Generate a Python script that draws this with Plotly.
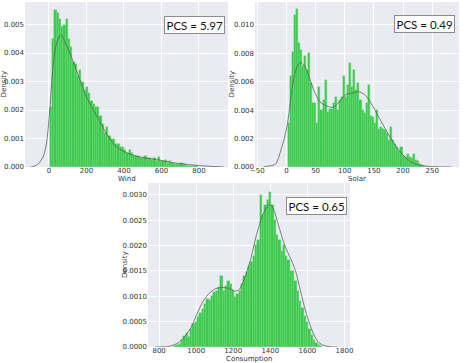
import plotly.graph_objects as go

# ---------------- data ----------------
wind_bin_start = 5
wind_bin_width = 12
wind_density = [0.0021, 0.0045, 0.0055, 0.0054, 0.0052, 0.0049, 0.0050, 0.0052, 0.0045, 0.0042,
                0.0037, 0.0036, 0.0032, 0.0034, 0.0030, 0.0027, 0.0028, 0.0026, 0.0023, 0.0022,
                0.0021, 0.0021, 0.0018, 0.0015, 0.0012, 0.0014, 0.0011, 0.0010, 0.0010, 0.0008,
                0.0008, 0.0007, 0.0007, 0.0006, 0.0005, 0.0006, 0.0005, 0.0004, 0.0004, 0.0004,
                0.0003, 0.0003, 0.0004, 0.0003, 0.0003, 0.00025, 0.0003, 0.0002, 0.00035, 0.0002,
                0.0002, 0.00025, 0.00015, 0.0002, 0.00015, 0.0001, 0.00012, 0.0001, 0.00015, 0.0001,
                0.00008, 0.00005, 0.00004, 0.00003, 0.00002, 0.00002]
wind_kde_x = [-100, -86, -59, -32, -14, 4, 21, 39, 57, 66, 84, 111, 146, 200, 254, 307, 361, 414,
              486, 575, 664, 754, 843, 914, 935]
wind_kde_y = [0.0, 0.00001, 0.0001, 0.00035, 0.0008, 0.0020, 0.0035, 0.0043, 0.0046, 0.00463,
              0.0044, 0.0040, 0.0034, 0.00245, 0.0018, 0.00117, 0.0007, 0.0005, 0.00035, 0.00026,
              0.00015, 0.00008, 0.00003, 0.00001, 0.0]

solar_bin_start = 2
solar_bin_width = 3.52
solar_density = [0.0031, 0.0064, 0.0081, 0.0107, 0.0111, 0.0087, 0.0082, 0.0071, 0.0078, 0.0068,
                 0.0080, 0.0059, 0.0045, 0.0045, 0.0031, 0.0056, 0.0040, 0.0047, 0.0061, 0.0039,
                 0.0041, 0.0041, 0.0045, 0.0049, 0.0040, 0.0047, 0.0049, 0.0064, 0.0049, 0.0058,
                 0.0073, 0.0056, 0.0068, 0.0054, 0.0059, 0.0047, 0.0040, 0.0038, 0.0045, 0.0058,
                 0.0036, 0.0035, 0.0031, 0.0040, 0.0027, 0.0028, 0.0027, 0.0026, 0.0024, 0.0019,
                 0.0028, 0.0019, 0.0016, 0.0014, 0.0011, 0.0014, 0.0008, 0.0007, 0.0009, 0.0007,
                 0.0006, 0.0009, 0.0005, 0.0004, 0.0002, 0.00016, 0.0001]
solar_kde_x = [-40, -33, -19, -8, -2.5, 3, 8.5, 14, 20, 24, 31, 40, 48, 57, 68, 80, 91, 102, 114,
               122, 134, 145, 157, 168, 179, 191, 202, 214, 225, 237, 260, 283]
solar_kde_y = [0.0, 0.00005, 0.0002, 0.0014, 0.0022, 0.0034, 0.0052, 0.0065, 0.0072, 0.00735,
               0.0071, 0.0062, 0.0053, 0.0046, 0.0043, 0.0042, 0.0046, 0.0051, 0.0052, 0.0053,
               0.0051, 0.0045, 0.0036, 0.0028, 0.0020, 0.0013, 0.00075, 0.00035, 0.00016, 0.00007,
               0.00001, 0.0]

cons_bin_start = 880
cons_bin_width = 12.5
cons_density = [0.00002, 0.00003, 0.00006, 0.00013, 0.00022, 0.00028, 0.00020, 0.00036, 0.00045, 0.00050,
                0.00060, 0.00066, 0.00075, 0.00085, 0.00095, 0.00092, 0.00100, 0.00108, 0.00110, 0.00118,
                0.00140, 0.00110, 0.00120, 0.00130, 0.00125, 0.00112, 0.00098, 0.00105, 0.00110, 0.00125,
                0.00140, 0.00148, 0.00160, 0.00168, 0.00180, 0.00200, 0.00210, 0.00300, 0.00260, 0.00280,
                0.00290, 0.00305, 0.00280, 0.00250, 0.00220, 0.00210, 0.00190, 0.00200, 0.00180, 0.00172,
                0.00150, 0.00150, 0.00130, 0.00110, 0.00090, 0.00076, 0.00062, 0.00050, 0.00036, 0.00024,
                0.00014, 0.00008, 0.00004, 0.00002]
cons_kde_x = [780, 800, 851, 902, 936, 970, 1003, 1037, 1071, 1105, 1139, 1173, 1207, 1232, 1258,
              1292, 1325, 1359, 1385, 1402, 1419, 1444, 1478, 1512, 1537, 1563, 1588, 1614, 1639,
              1664, 1690, 1732, 1760]
cons_kde_y = [0.0, 0.0, 0.00001, 0.00008, 0.0002, 0.00037, 0.00064, 0.0009, 0.00106, 0.00115,
              0.00117, 0.00116, 0.0011, 0.00113, 0.00133, 0.0017, 0.0022, 0.0026, 0.00277, 0.0028,
              0.0027, 0.0024, 0.0020, 0.00172, 0.00149, 0.0011, 0.00074, 0.00044, 0.00021, 0.00008,
              0.00003, 0.0, 0.0]

panels = [
    dict(name="Wind", start=wind_bin_start, width=wind_bin_width, dens=wind_density,
         kx=wind_kde_x, ky=wind_kde_y, pcs="PCS = 5.97",
         xrange=[-128, 955], yrange=[0, 0.00579], xt=[0, 200, 400, 600, 800],
         yt=[0, 0.001, 0.002, 0.003, 0.004, 0.005], yfmt="{:.3f}"),
    dict(name="Solar", start=solar_bin_start, width=solar_bin_width, dens=solar_density,
         kx=solar_kde_x, ky=solar_kde_y, pcs="PCS = 0.49",
         xrange=[-54, 296], yrange=[0, 0.0116], xt=[-50, 0, 50, 100, 150, 200, 250],
         yt=[0, 0.002, 0.004, 0.006, 0.008, 0.010], yfmt="{:.3f}"),
    dict(name="Consumption", start=cons_bin_start, width=cons_bin_width, dens=cons_density,
         kx=cons_kde_x, ky=cons_kde_y, pcs="PCS = 0.65",
         xrange=[740, 1830], yrange=[0, 0.00323], xt=[800, 1000, 1200, 1400, 1600, 1800],
         yt=[0, 0.0005, 0.001, 0.0015, 0.002, 0.0025, 0.003], yfmt="{:.4f}"),
]

# ---------------- layout geometry (pixels) ----------------
W, H = 474, 363
boxes = [(25, 228, 2, 167), (255, 459, 2, 167), (148, 350, 183, 347)]
pcs_pos = [(194, 25), (424.5, 24), (316.5, 205.5)]
xtitle_y = [179, 179, 358.5]
ytitle_x = [4, 232, 125]

BAR = "#3cc94c"
EDGE = "#6ad977"
KDE = "#556657"
TXT = "#333333"
FONT = dict(family="DejaVu Sans", size=7, color=TXT)


def tick_text(v):
    return ("\u2212" + str(-v)) if v < 0 else str(v)


fig = go.Figure()
layout = dict(width=W, height=H, margin=dict(l=0, r=0, t=0, b=0),
              paper_bgcolor="white", plot_bgcolor="#eaeaf2", showlegend=False,
              bargap=0, annotations=[])

for i, p in enumerate(panels):
    xa = "x" if i == 0 else f"x{i+1}"
    ya = "y" if i == 0 else f"y{i+1}"
    centers = [p["start"] + p["width"] * (k + 0.5) for k in range(len(p["dens"]))]
    fig.add_trace(go.Bar(x=centers, y=p["dens"], width=p["width"], xaxis=xa, yaxis=ya,
                         marker=dict(color=BAR, line=dict(color=EDGE, width=0.4))))
    fig.add_trace(go.Scatter(x=p["kx"], y=p["ky"], mode="lines", xaxis=xa, yaxis=ya,
                             line=dict(color=KDE, width=0.8, shape="spline", smoothing=0.8)))
    x0, x1, y0, y1 = boxes[i]
    axkey = "xaxis" if i == 0 else f"xaxis{i+1}"
    aykey = "yaxis" if i == 0 else f"yaxis{i+1}"
    layout[axkey] = dict(domain=[x0 / W, x1 / W], range=p["xrange"], anchor=ya, automargin=False,
                         tickvals=p["xt"], ticktext=[tick_text(v) for v in p["xt"]],
                         showgrid=True, gridcolor="white", gridwidth=1, zeroline=False,
                         showline=False, ticks="", tickfont=FONT, ticklabelstandoff=-2)
    layout[aykey] = dict(domain=[1 - y1 / H, 1 - y0 / H], range=p["yrange"], anchor=xa, automargin=False,
                         tickvals=p["yt"], ticktext=[p["yfmt"].format(v) for v in p["yt"]],
                         showgrid=True, gridcolor="white", gridwidth=1, zeroline=False,
                         showline=False, ticks="", tickfont=FONT)
    # axis titles
    layout["annotations"].append(dict(
        x=(x0 + x1) / 2 / W, y=1 - xtitle_y[i] / H, xref="paper", yref="paper", text=p["name"],
        showarrow=False, xanchor="center", yanchor="middle", font=FONT))
    layout["annotations"].append(dict(
        x=ytitle_x[i] / W, y=1 - (y0 + y1) / 2 / H, xref="paper", yref="paper", text="Density",
        showarrow=False, xanchor="center", yanchor="middle", textangle=-90, font=FONT))
    cx, cy = pcs_pos[i]
    layout["annotations"].append(dict(
        x=cx / W, y=1 - cy / H, xref="paper", yref="paper", text=p["pcs"], showarrow=False,
        xanchor="center", yanchor="middle", font=dict(family="Lato", size=11.5, color="#111111"),
        bgcolor="white", bordercolor="#8c8c8c", borderwidth=1, borderpad=1.5))

fig.update_layout(**layout)
fig.write_html("out.html", config={"displayModeBar": False},
               post_script="document.body.style.margin='0';document.body.style.overflow='hidden';")
